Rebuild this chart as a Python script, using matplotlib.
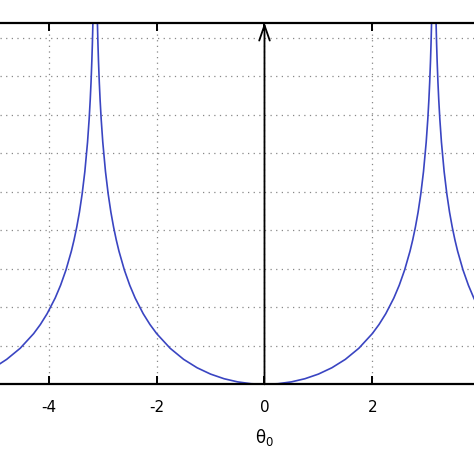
import matplotlib
matplotlib.use("Agg")
import matplotlib.pyplot as plt

# values: relative change of period vs start angle
# left branch (around -2*pi), middle branch, right branch (around +2*pi)
x_left = [-4.950, -4.783, -4.533, -4.283, -4.158, -4.033, -3.883, -3.783, -3.683,
          -3.583, -3.533, -3.483, -3.433, -3.383, -3.333, -3.283, -3.253, -3.233,
          -3.218, -3.203, -3.193, -3.183, -3.173, -3.163, -3.153]
y_left = [0.1239, 0.1620, 0.2338, 0.3289, 0.3883, 0.4582, 0.5602, 0.6430, 0.7422,
          0.8643, 0.9372, 1.0208, 1.1178, 1.2355, 1.3807, 1.5712, 1.7218, 1.8471,
          1.9606, 2.0989, 2.2115, 2.3486, 2.5233, 2.7656, 3.1616]

x_mid = [-3.13, -3.12, -3.11, -3.10, -3.09, -3.08, -3.065, -3.05, -3.03, -3.0,
         -2.95, -2.9, -2.85, -2.8, -2.75, -2.7, -2.6, -2.5, -2.4, -2.25, -2.125,
         -2.0, -1.75, -1.5, -1.25, -1.0, -0.75, -0.5, -0.25, 0.0,
         0.25, 0.5, 0.75, 1.0, 1.25, 1.5, 1.75, 2.0, 2.125, 2.25, 2.4, 2.5, 2.6,
         2.7, 2.75, 2.8, 2.85, 2.9, 2.95, 3.0, 3.03, 3.05, 3.065, 3.08, 3.09,
         3.10, 3.11, 3.12, 3.13]
y_mid = [3.1616, 2.7656, 2.5233, 2.3486, 2.2115, 2.0989, 1.9606, 1.8471, 1.7218,
         1.5712, 1.3807, 1.2355, 1.1178, 1.0208, 0.9372, 0.8643, 0.7422, 0.6430,
         0.5602, 0.4582, 0.3883, 0.3289, 0.2338, 0.1620, 0.1074, 0.0663, 0.0363,
         0.0159, 0.0039, 0.0,
         0.0039, 0.0159, 0.0363, 0.0663, 0.1074, 0.1620, 0.2338, 0.3289, 0.3883,
         0.4582, 0.5602, 0.6430, 0.7422, 0.8643, 0.9372, 1.0208, 1.1178, 1.2355,
         1.3807, 1.5712, 1.7218, 1.8471, 1.9606, 2.0989, 2.2115, 2.3486, 2.5233,
         2.7656, 3.1616]

x_right = [3.153, 3.163, 3.173, 3.183, 3.193, 3.203, 3.218, 3.233, 3.253, 3.283,
           3.333, 3.383, 3.433, 3.483, 3.533, 3.583, 3.683, 3.783, 3.883, 3.933]
y_right = [3.1616, 2.7656, 2.5233, 2.3486, 2.2115, 2.0989, 1.9606, 1.8471, 1.7218,
           1.5712, 1.3807, 1.2355, 1.1178, 1.0208, 0.9372, 0.8643, 0.7422, 0.6430,
           0.5602, 0.5236]

xticks = [-4, -2, 0, 2]
yticks = [0, 0.25, 0.5, 0.75, 1.0, 1.25, 1.5, 1.75, 2.0, 2.25]

blue = '#3a45c2'

fig = plt.figure(figsize=(4.74, 4.74), dpi=100)
# plot area is wider than the picture, left/right borders are cut off
ax = fig.add_axes([0.0, 0.1892, 1.0, 0.7633])

for xs, ys in [(x_left, y_left), (x_mid, y_mid), (x_right, y_right)]:
    ax.plot(xs, ys, color=blue, lw=1.2)

ax.set_xticks(xticks)
ax.set_xticklabels([str(t) for t in xticks])
ax.set_yticks(yticks)
ax.set_yticklabels([])
ax.set_xlim(-4.907, 3.887)
ax.set_ylim(0, 2.348)

ax.grid(True, color='#888888', linestyle=(0, (1, 3.5)), lw=0.9)
ax.set_axisbelow(True)

for s in ['left', 'right']:
    ax.spines[s].set_visible(False)
for s in ['top', 'bottom']:
    ax.spines[s].set_linewidth(1.6)

ax.tick_params(axis='x', direction='in', length=6, width=1.4, top=True,
               labelsize=11, pad=11)
ax.tick_params(axis='y', left=False, right=False)

# y axis drawn as arrow at theta0 = 0
ax.annotate('', xy=(0, 2.348), xytext=(0, 0),
            arrowprops=dict(arrowstyle='->,head_length=1.1,head_width=0.38',
                            color='black', lw=1.3, shrinkA=0, shrinkB=0),
            annotation_clip=False)

fig.text(264.5 / 474, 1 - 438 / 474, 'θ$_0$', ha='center', va='center',
         fontsize=12)

fig.savefig('out.png', dpi=100)
